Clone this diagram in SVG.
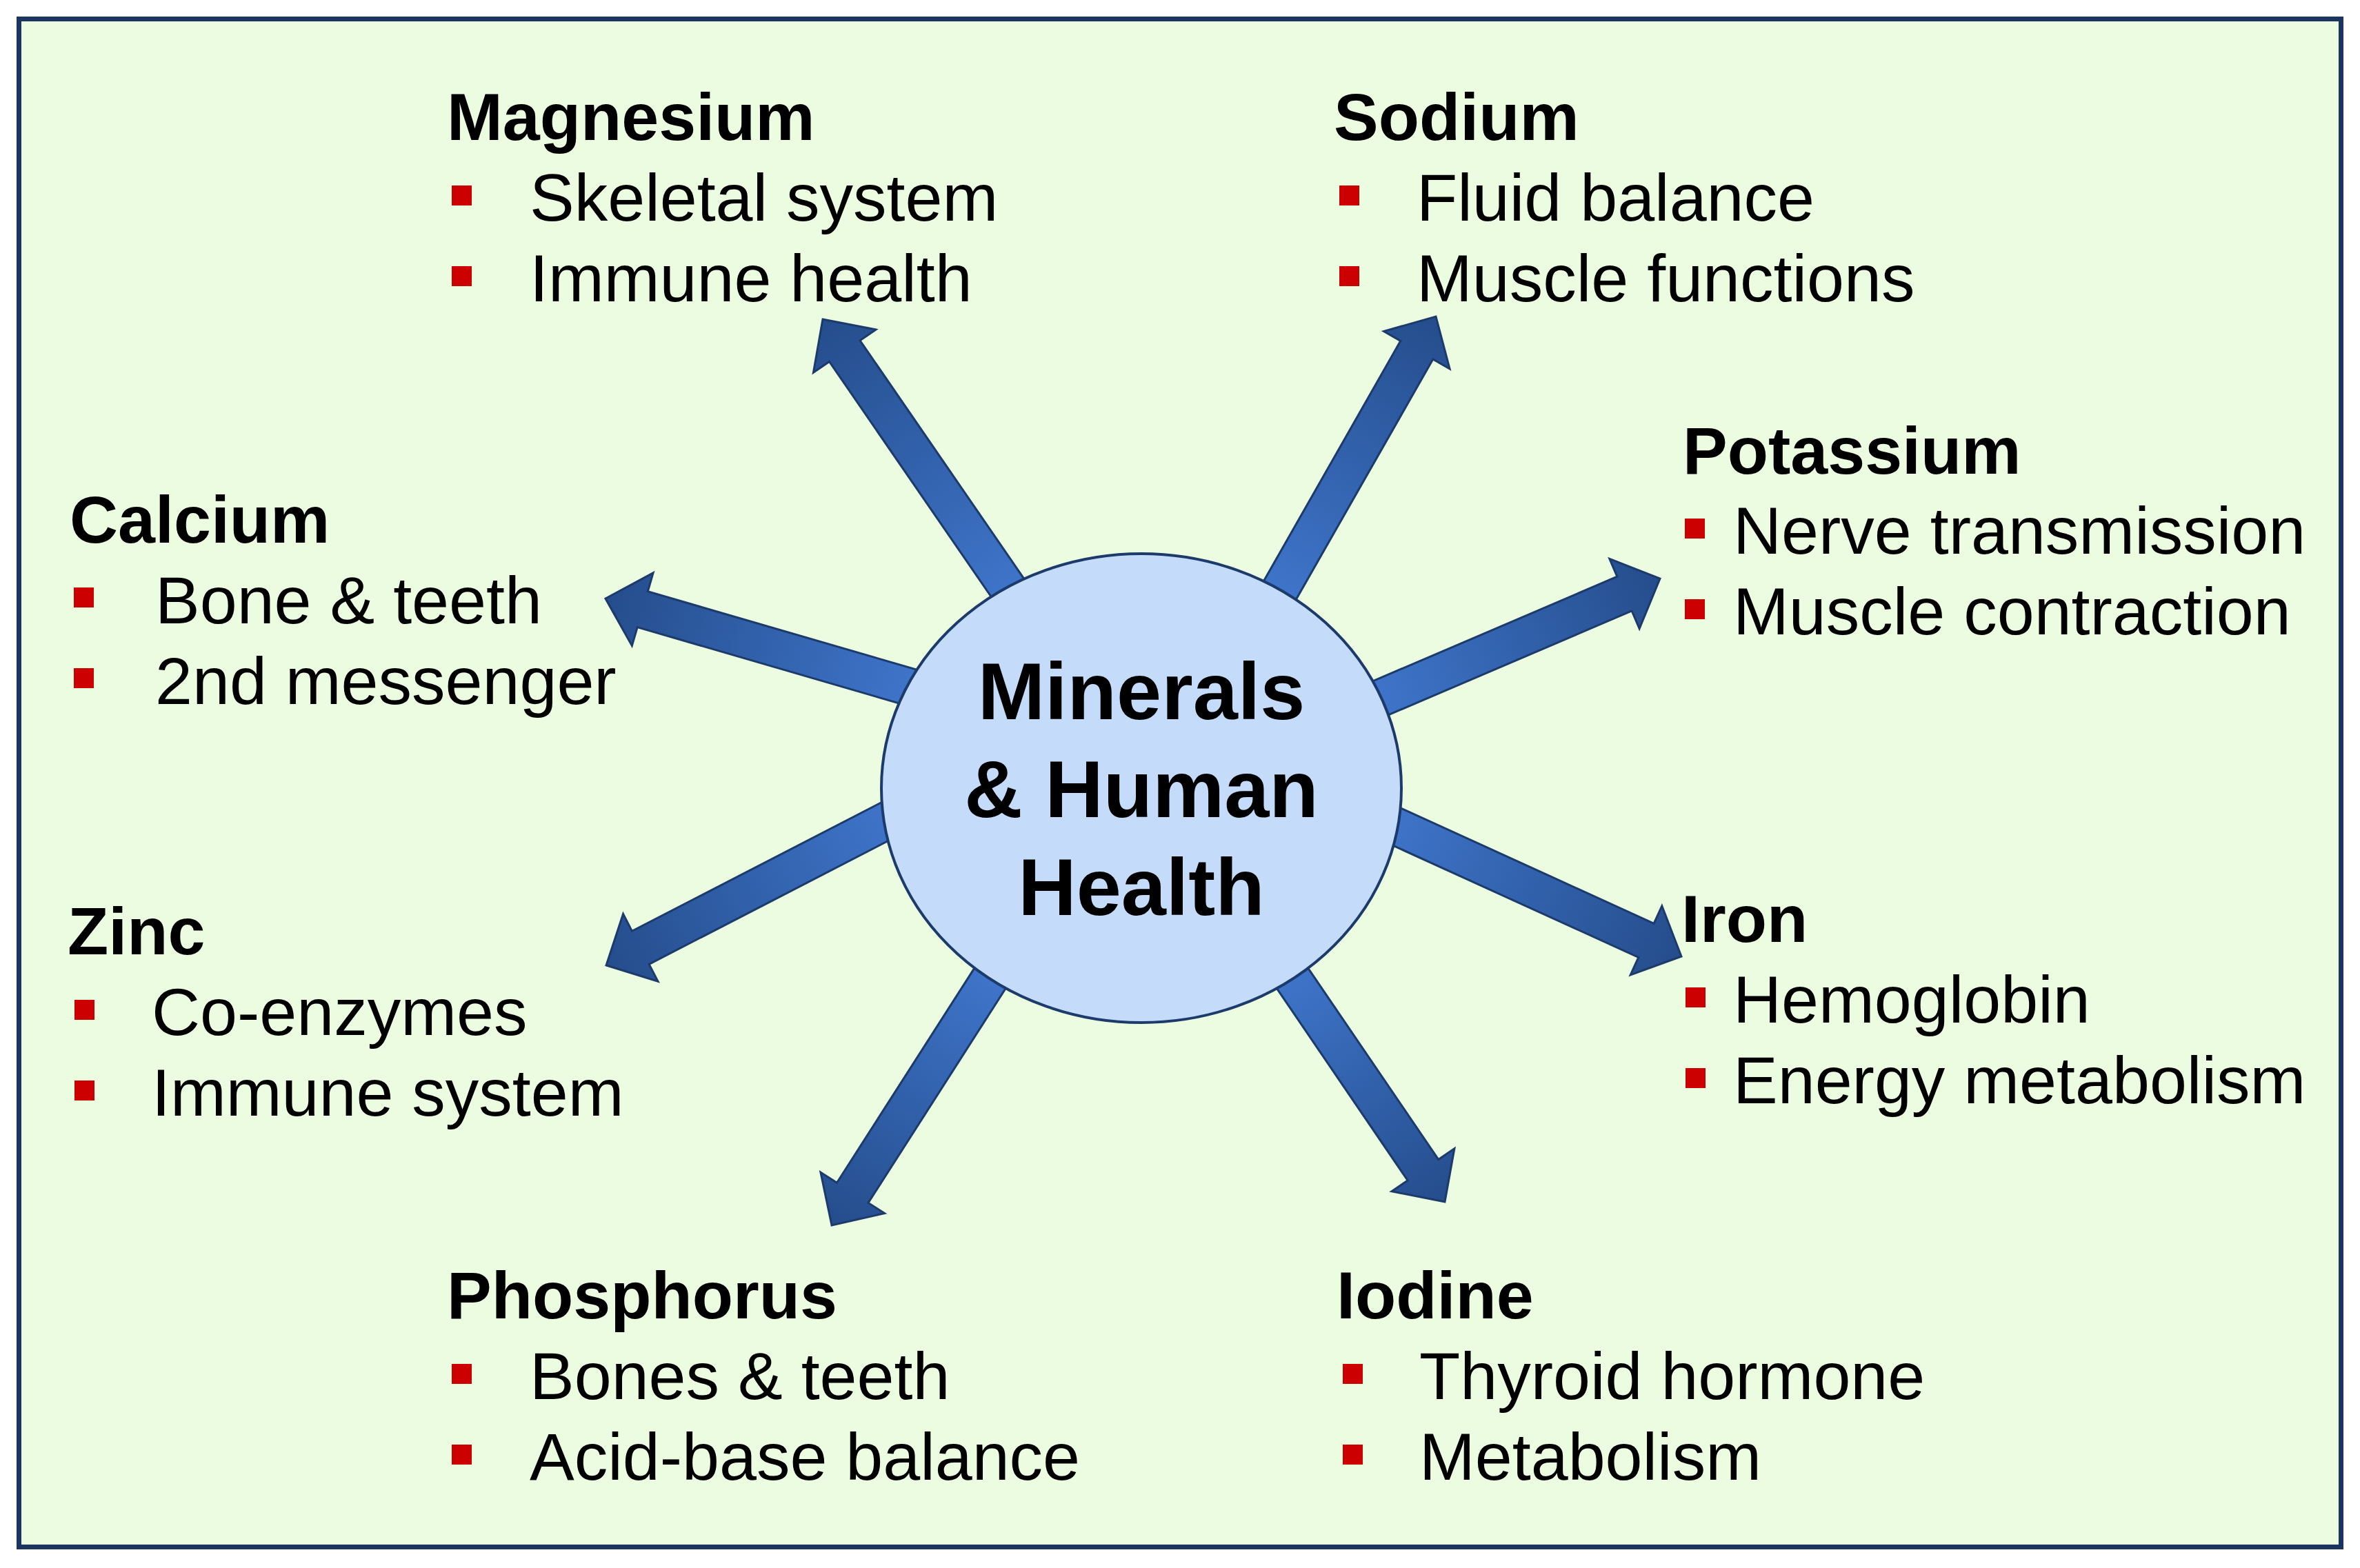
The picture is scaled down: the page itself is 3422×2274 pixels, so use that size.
<svg xmlns="http://www.w3.org/2000/svg" width="3422" height="2274" viewBox="0 0 3422 2274">
<defs>
<style>
.t{font-family:"Liberation Sans",Arial,sans-serif;font-weight:bold;font-size:97px;fill:#000}
.b{font-family:"Liberation Sans",Arial,sans-serif;font-size:97px;fill:#000}
.c{font-family:"Liberation Sans",Arial,sans-serif;font-weight:bold;font-size:117px;fill:#000;text-anchor:middle}
.sq{fill:#cc0000}
.arr{fill:url(#ag);stroke:#1c3b6b;stroke-width:3;stroke-linejoin:miter}
</style>
<linearGradient id="ag" x1="0" y1="0" x2="1" y2="0">
<stop offset="0.1" stop-color="#3e74c9"/>
<stop offset="1" stop-color="#254d8c"/>
</linearGradient>
</defs>
<rect x="0" y="0" width="3422" height="2274" fill="#ffffff"/>
<rect x="27.5" y="27.5" width="3367" height="2216" fill="#ebfce0" stroke="#1b355e" stroke-width="7"/>
<g id="connectors">
<path class="arr" transform="translate(1458,848) rotate(-124.54)" d="M -60,-27 H 411.4 V -55 L 467.4,0 L 411.4,55 V 27 H -60 Z"/>
<path class="arr" transform="translate(1861,847) rotate(-60.33)" d="M -60,-27 H 390.5 V -55 L 446.5,0 L 390.5,55 V 27 H -60 Z"/>
<path class="arr" transform="translate(2012,1008) rotate(-23.16)" d="M -60,-27 H 373.6 V -55 L 429.6,0 L 373.6,55 V 27 H -60 Z"/>
<path class="arr" transform="translate(2023,1198) rotate(24.49)" d="M -60,-27 H 400 V -55 L 456,0 L 400,55 V 27 H -60 Z"/>
<path class="arr" transform="translate(1881,1429) rotate(55.73)" d="M -60,-27 H 324 V -55 L 380,0 L 324,55 V 27 H -60 Z"/>
<path class="arr" transform="translate(1429,1429) rotate(122.65)" d="M -60,-27 H 357.3 V -55 L 413.3,0 L 357.3,55 V 27 H -60 Z"/>
<path class="arr" transform="translate(1288,1189) rotate(152.71)" d="M -60,-27 H 404.2 V -55 L 460.2,0 L 404.2,55 V 27 H -60 Z"/>
<path class="arr" transform="translate(1311,994) rotate(-163.78)" d="M -60,-27 H 395 V -55 L 451,0 L 395,55 V 27 H -60 Z"/>
</g>
<g id="center">
<ellipse cx="1655" cy="1143" rx="377" ry="340" fill="#c4dcfa" stroke="#1c3b6b" stroke-width="4"/>
<text class="c" x="1655" y="1043">Minerals</text>
<text class="c" x="1655" y="1185">&amp; Human</text>
<text class="c" x="1655" y="1327">Health</text>
</g>
<g id="magnesium">
<text class="t" x="648" y="203">Magnesium</text>
<rect class="sq" x="655" y="269" width="29" height="29"/>
<text class="b" x="768" y="320">Skeletal system</text>
<rect class="sq" x="655" y="386" width="29" height="29"/>
<text class="b" x="768" y="437">Immune health</text>
</g>
<g id="sodium">
<text class="t" x="1934" y="203">Sodium</text>
<rect class="sq" x="1942" y="269" width="29" height="29"/>
<text class="b" x="2054" y="320">Fluid balance</text>
<rect class="sq" x="1942" y="386" width="29" height="29"/>
<text class="b" x="2054" y="437">Muscle functions</text>
</g>
<g id="potassium">
<text class="t" x="2440" y="687">Potassium</text>
<rect class="sq" x="2443" y="752" width="29" height="29"/>
<text class="b" x="2513" y="803">Nerve transmission</text>
<rect class="sq" x="2443" y="869" width="29" height="29"/>
<text class="b" x="2513" y="920">Muscle contraction</text>
</g>
<g id="calcium">
<text class="t" x="101" y="787">Calcium</text>
<rect class="sq" x="107" y="852" width="29" height="29"/>
<text class="b" x="225" y="904">Bone &amp; teeth</text>
<rect class="sq" x="107" y="969" width="29" height="29"/>
<text class="b" x="225" y="1021">2nd messenger</text>
</g>
<g id="zinc">
<text class="t" x="98" y="1384">Zinc</text>
<rect class="sq" x="108" y="1450" width="29" height="29"/>
<text class="b" x="220" y="1501">Co-enzymes</text>
<rect class="sq" x="108" y="1567" width="29" height="29"/>
<text class="b" x="220" y="1618">Immune system</text>
</g>
<g id="iron">
<text class="t" x="2438" y="1366">Iron</text>
<rect class="sq" x="2444" y="1432" width="29" height="29"/>
<text class="b" x="2513" y="1483">Hemoglobin</text>
<rect class="sq" x="2444" y="1549" width="29" height="29"/>
<text class="b" x="2513" y="1600">Energy metabolism</text>
</g>
<g id="phosphorus">
<text class="t" x="648" y="1912">Phosphorus</text>
<rect class="sq" x="655" y="1978" width="29" height="29"/>
<text class="b" x="768" y="2029">Bones &amp; teeth</text>
<rect class="sq" x="655" y="2095" width="29" height="29"/>
<text class="b" x="768" y="2146">Acid-base balance</text>
</g>
<g id="iodine">
<text class="t" x="1938" y="1912">Iodine</text>
<rect class="sq" x="1947" y="1978" width="29" height="29"/>
<text class="b" x="2058" y="2029">Thyroid hormone</text>
<rect class="sq" x="1947" y="2095" width="29" height="29"/>
<text class="b" x="2058" y="2146">Metabolism</text>
</g>
</svg>
